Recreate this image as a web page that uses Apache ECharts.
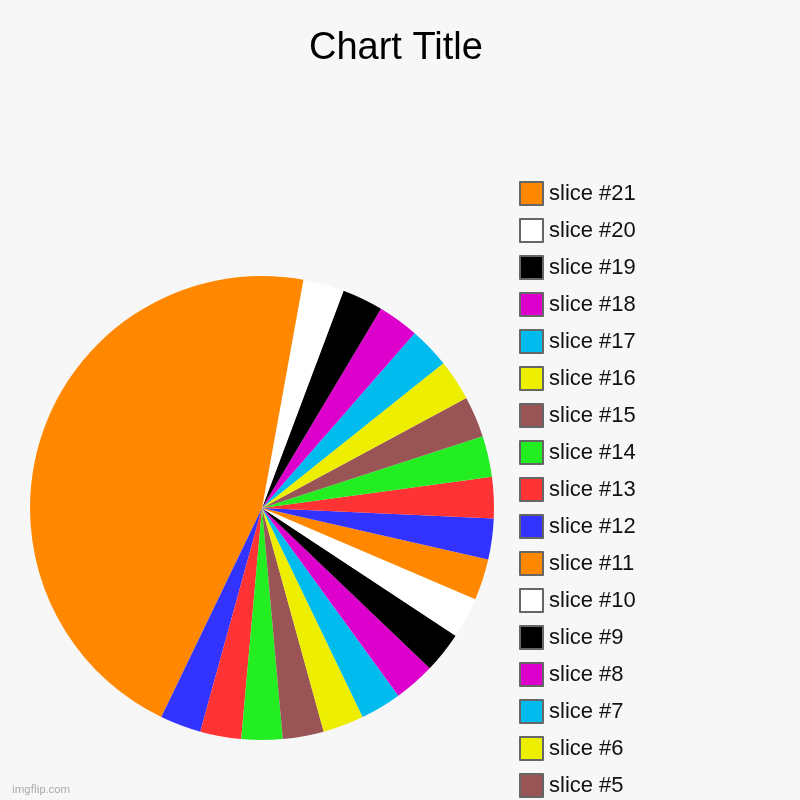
<!DOCTYPE html>
<html>
<head>
<meta charset="utf-8">
<script src="https://cdn.jsdelivr.net/npm/echarts@6/dist/echarts.min.js"></script>
<style>
  html, body { margin: 0; padding: 0; background: #f7f7f7; }
  #chart { width: 800px; height: 800px; }
</style>
</head>
<body>
<div id="chart"></div>
<script>
// 切片名称和数值
const sliceNames = ['slice #1', 'slice #2', 'slice #3', 'slice #4', 'slice #5', 'slice #6', 'slice #7',
  'slice #8', 'slice #9', 'slice #10', 'slice #11', 'slice #12', 'slice #13', 'slice #14',
  'slice #15', 'slice #16', 'slice #17', 'slice #18', 'slice #19', 'slice #20', 'slice #21'];
const sliceValues = [15, 1, 1, 1, 1, 1, 1, 1, 1, 1, 1, 1, 1, 1, 1, 1, 1, 1, 1, 1, 1];
const palette = ['#ff8800', '#3333ff', '#ff3333', '#22ee22', '#995555',
  '#eeee00', '#00bbee', '#dd00cc', '#000000', '#ffffff'];

const chartDom = document.getElementById('chart');
const myChart = echarts.init(chartDom);

const option = {
  backgroundColor: '#f7f7f7',
  animation: false,
  color: palette,
  title: {
    text: 'Chart Title',
    left: 304,
    top: 25,
    textStyle: { fontFamily: 'Liberation Sans', fontSize: 38, fontWeight: 'normal', color: '#000' }
  },
  graphic: [{
    type: 'text',
    left: 12,
    top: 785,
    style: { text: 'imgflip.com', fontFamily: 'Roboto', fontSize: 11, fill: '#aaaaaa' }
  }],
  legend: {
    orient: 'vertical',
    left: 519,
    top: 181,
    padding: 0,
    height: 2000,
    itemWidth: 23,
    itemHeight: 23,
    itemGap: 12,
    icon: 'rect',
    data: sliceNames.slice().reverse(),
    itemStyle: { borderColor: '#666666', borderWidth: 2 },
    textStyle: { fontFamily: 'Liberation Sans', fontSize: 22, color: '#111', padding: [0, 0, 0, 1] }
  },
  series: [
    {
      type: 'pie',
      center: [262, 508],
      radius: 232,
      startAngle: 90,
      clockwise: false,
      label: { show: false },
      labelLine: { show: false },
      emphasis: { disabled: true },
      itemStyle: { borderWidth: 0 },
      data: sliceNames.map((n, i) => ({ name: n, value: sliceValues[i] }))
    }
  ]
};

option && myChart.setOption(option);
</script>
</body>
</html>
